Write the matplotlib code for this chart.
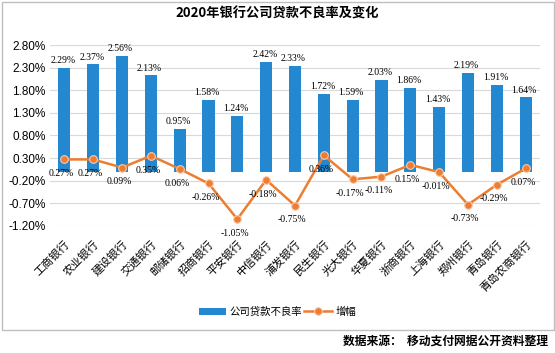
import matplotlib
matplotlib.use("Agg")
import matplotlib.pyplot as plt
from matplotlib.patches import Rectangle
import numpy as np

plt.rcParams['font.family'] = ['Noto Sans CJK SC', 'DejaVu Sans']

### Data
banks = ['工商银行', '农业银行', '建设银行', '交通银行', '邮储银行', '招商银行',
         '平安银行', '中信银行', '浦发银行', '民生银行', '光大银行', '华夏银行',
         '浙商银行', '上海银行', '郑州银行', '青岛银行', '青岛农商银行']
npl    = [2.29, 2.37, 2.56, 2.13, 0.95, 1.58, 1.24, 2.42, 2.33, 1.72,
          1.59, 2.03, 1.86, 1.43, 2.19, 1.91, 1.64]
change = [0.27, 0.27, 0.09, 0.35, 0.06, -0.26, -1.05, -0.18, -0.75, 0.36,
          -0.17, -0.11, 0.15, -0.01, -0.73, -0.29, 0.07]
yticks = [-1.2, -0.7, -0.2, 0.3, 0.8, 1.3, 1.8, 2.3, 2.8]

bar_color  = '#2388CF'
line_color = '#ED7D31'


def main():
    fig = plt.figure(figsize=(5.55, 3.53), dpi=100)
    ax = fig.add_axes([0.09, 0.36, 0.883, 0.5125])

    x = np.arange(len(banks))
    bars = ax.bar(x, npl, width=0.42, color=bar_color, label='公司贷款不良率', zorder=2)
    line, = ax.plot(x, change, color=line_color, lw=1.8, marker='o', ms=5.5,
                    mfc=line_color, mec='#F8CBAD', mew=0.8, label='增幅', zorder=3)

    # data labels
    for xi, v in zip(x, npl):
        ax.annotate('%.2f%%' % v, (xi, v), xytext=(-1, 2), textcoords='offset points',
                    ha='center', va='bottom', fontsize=7, family='Liberation Serif')
    for xi, v in zip(x, change):
        ax.annotate('%.2f%%' % v, (xi, v), xytext=(-2, -7), textcoords='offset points',
                    ha='center', va='top', fontsize=7, family='Liberation Serif', zorder=4)

    ax.set_xlim(-0.5, len(banks) - 0.5)
    ax.set_ylim(-1.2, 2.8)
    ax.set_yticks(yticks)
    ax.set_yticklabels(['%.2f%%' % t for t in yticks], family='Liberation Sans', fontsize=8.5)
    ax.set_xticks(x)
    ax.set_xticklabels(banks, rotation=45, ha='right', rotation_mode='anchor', fontsize=8)
    ax.tick_params(axis='both', length=0)
    ax.tick_params(axis='x', pad=9)
    ax.tick_params(axis='y', pad=3)
    ax.grid(axis='y', color='#D9D9D9', lw=0.8, zorder=0)
    ax.set_axisbelow(True)
    for s in ax.spines.values():
        s.set_visible(False)

    ax.legend([bars, line], ['公司贷款不良率', '增幅'], loc='center',
              bbox_to_anchor=(0.5, 1 - 312 / 353),
              bbox_transform=fig.transFigure, ncol=2, frameon=False, fontsize=7.5,
              handlelength=2.6, handleheight=0.7, handletextpad=0.4, columnspacing=0.2)

    fig.text(0.5, 1 - 14 / 353, '2020年银行公司贷款不良率及变化', ha='center', va='center',
             fontsize=9.5, fontweight='bold')
    fig.text(548 / 555, 1 - 341 / 353, '数据来源：  移动支付网据公开资料整理', ha='right',
             va='center', fontsize=8.5, fontweight='bold')

    fig.patches.append(Rectangle((1.5 / 555, 1 - 329.5 / 353), 552 / 555, 328 / 353,
                                 transform=fig.transFigure, fill=False,
                                 edgecolor='#BFBFBF', lw=1))

    fig.savefig('out.png', dpi=100)


if __name__ == '__main__':
    main()
